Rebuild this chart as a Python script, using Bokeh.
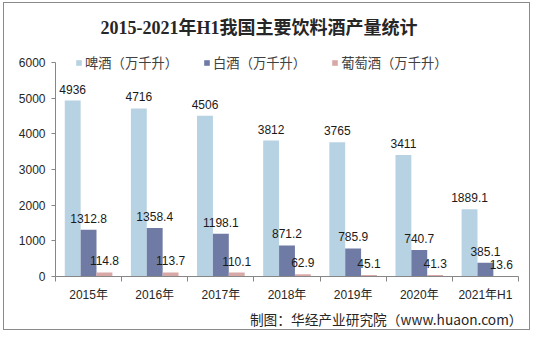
from bokeh.plotting import figure
from bokeh.models import (ColumnDataSource, Range1d, FixedTicker, LabelSet,
                          Legend, LegendItem, Title)
from bokeh.core.properties import value
from bokeh.transform import dodge
from bokeh.embed import file_html
from bokeh.resources import INLINE

categories = ["2015年", "2016年", "2017年", "2018年", "2019年", "2020年", "2021年H1"]
beer = [4936, 4716, 4506, 3812, 3765, 3411, 1889.1]
baijiu = [1312.8, 1358.4, 1198.1, 871.2, 785.9, 740.7, 385.1]
wine = [114.8, 113.7, 110.1, 62.9, 45.1, 41.3, 13.6]
series_names = ["啤酒（万千升）", "白酒（万千升）", "葡萄酒（万千升）"]
y_ticks = [0, 1000, 2000, 3000, 4000, 5000, 6000]

colors = ["#B7D2E3", "#6F7BA5", "#D8A8A7"]
SANS = "Liberation Sans, Arial, Noto Sans CJK SC"
CJK = "Noto Sans CJK SC, Liberation Sans"

xc = [i + 0.5 for i in range(len(categories))]
fmt = lambda v: f"{v:g}"
src = ColumnDataSource(dict(
    x=xc, beer=beer, baijiu=baijiu, wine=wine,
    beer_t=[fmt(v) for v in beer],
    baijiu_t=[fmt(v) for v in baijiu],
    wine_t=[fmt(v) for v in wine],
))

# frame extends above the 6000 tick so the legend can sit there (axis bounded at 0..6000)
p = figure(width=527, height=328, x_range=Range1d(0, len(categories)),
           y_range=Range1d(0, 6620), output_backend="svg", toolbar_location=None,
           min_border_left=51, min_border_right=13, min_border_top=37,
           min_border_bottom=55)
p.styles = {"border": "1px solid #8a8a8a", "margin": "2px 0 0 3px"}
p.outline_line_color = None
p.xgrid.visible = False
p.ygrid.visible = False

bw = 0.24
fields = ["beer", "baijiu", "wine"]
offs = [-bw, 0, bw]
rends = []
for f, o, c in zip(fields, offs, colors):
    r = p.vbar(x=dodge("x", o), top=f, width=bw, bottom=0, source=src,
               fill_color=c, line_color=None)
    rends.append(r)
    p.add_layout(LabelSet(x=dodge("x", o), y=f, text=f + "_t", source=src,
                          text_align="center", text_baseline="bottom",
                          y_offset=7, text_font=value(SANS), text_font_size="12px",
                          text_color="#1a1a1a"))

axis_col = "#868686"
xa = p.xaxis[0]
xa.ticker = FixedTicker(ticks=xc, minor_ticks=list(range(len(categories) + 1)))
xa.major_label_overrides = {x: c for x, c in zip(xc, categories)}
xa.major_tick_line_color = None
xa.major_tick_out = 0
xa.major_tick_in = 0
xa.minor_tick_line_color = axis_col
xa.minor_tick_out = 5
xa.minor_tick_in = 0
xa.axis_line_color = axis_col
xa.major_label_text_font = SANS
xa.major_label_text_font_size = "12px"
xa.major_label_text_color = "#262626"
xa.major_label_standoff = 6

ya = p.yaxis[0]
ya.ticker = FixedTicker(ticks=y_ticks, minor_ticks=[])
ya.bounds = (0, 6000)
ya.major_tick_line_color = axis_col
ya.major_tick_out = 4
ya.major_tick_in = 0
ya.minor_tick_line_color = None
ya.axis_line_color = axis_col
ya.major_label_text_font = SANS
ya.major_label_text_font_size = "12px"
ya.major_label_text_color = "#262626"
ya.major_label_standoff = 6

legend = Legend(items=[LegendItem(label=n, renderers=[r]) for n, r in zip(series_names, rends)],
                orientation="horizontal", location=(20, 204), padding=0, margin=0,
                spacing=25, label_standoff=3, glyph_width=7, glyph_height=7,
                label_height=16, label_text_font=CJK, label_text_font_size="13.3px",
                label_text_color="#404040", background_fill_alpha=0,
                border_line_color=None)
p.add_layout(legend, "center")

title = Title(text="2015-2021年H1我国主要饮料酒产量统计", align="left", offset=45,
              text_font="Liberation Serif, Noto Sans CJK SC", text_font_size="18px",
              text_font_style="bold", text_color="#262626", standoff=6)
p.add_layout(title, "above")

footer = Title(text="制图：华经产业研究院（www.huaon.com）", align="right", offset=-4,
               text_font=CJK, text_font_size="13.7px", text_font_style="normal",
               text_color="#262626", standoff=4)
p.add_layout(footer, "below")

open("out.html", "w").write(file_html(p, INLINE))
